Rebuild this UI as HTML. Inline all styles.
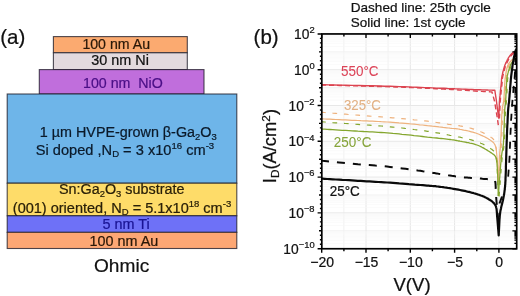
<!DOCTYPE html>
<html lang="en"><head><meta charset="utf-8"><title>Figure</title>
<style>html,body{margin:0;padding:0;background:#fff;}body{width:520px;height:296px;overflow:hidden;}svg{display:block;filter:blur(0.4px);}text{font-family:"Liberation Sans",sans-serif;}</style>
</head><body>
<svg width="520" height="296" viewBox="0 0 520 296">
<rect width="520" height="296" fill="#fff"/>
<g stroke="#1c1a26" stroke-opacity="0.78" stroke-width="1.1">
<rect x="53.4" y="36.6" width="133.9" height="16.2" fill="#FBAA70"/>
<rect x="53.4" y="52.8" width="133.9" height="16.8" fill="#E3DADE"/>
<rect x="39.3" y="69.6" width="164.7" height="24.4" fill="#C06EDC"/>
<rect x="7.2" y="94.0" width="229.6" height="89.2" fill="#6EB5E9"/>
<rect x="7.2" y="183.2" width="229.6" height="32.6" fill="#FEDC69"/>
<rect x="7.2" y="215.8" width="229.6" height="16.6" fill="#6E71F7"/>
<rect x="7.2" y="232.3" width="229.6" height="16.2" fill="#FDA774"/>
</g>
<text x="0.2" y="43.6" font-size="20.5" fill="#111" stroke="#111" stroke-width="0.22" text-anchor="start">(a)</text>
<text x="82.4" y="49" font-size="14" fill="#2a1808" stroke="#2a1808" stroke-width="0.22" text-anchor="start" textLength="67.6" lengthAdjust="spacingAndGlyphs">100 nm Au</text>
<text x="91.2" y="64.7" font-size="14" fill="#111" stroke="#111" stroke-width="0.22" text-anchor="start" textLength="57.7" lengthAdjust="spacingAndGlyphs">30 nm Ni</text>
<text x="83" y="87.7" font-size="14" fill="#4a0f86" stroke="#4a0f86" stroke-width="0.22" text-anchor="start" textLength="79.8" lengthAdjust="spacingAndGlyphs" xml:space="preserve">100 nm  NiO</text>
<text x="39.8" y="137.3" font-size="14" fill="#0b1a2a" stroke="#0b1a2a" stroke-width="0.22" text-anchor="start" xml:space="preserve" textLength="176.9" lengthAdjust="spacingAndGlyphs"><tspan>1 µm HVPE-grown β-Ga</tspan><tspan font-size="9.2" dy="2.5">2</tspan><tspan dy="-2.5">O</tspan><tspan font-size="9.2" dy="2.5">3</tspan></text>
<text x="35.8" y="154.6" font-size="14" fill="#0b1a2a" stroke="#0b1a2a" stroke-width="0.22" text-anchor="start" xml:space="preserve" textLength="178.4" lengthAdjust="spacingAndGlyphs"><tspan>Si doped ,N</tspan><tspan font-size="9.2" dy="2.5">D</tspan><tspan dy="-2.5"> = 3 x10</tspan><tspan font-size="9.2" dy="-5.5">16</tspan><tspan dy="5.5"> cm</tspan><tspan font-size="9.2" dy="-5.5">-3</tspan></text>
<text x="59.0" y="194.3" font-size="14" fill="#2a2008" stroke="#2a2008" stroke-width="0.22" text-anchor="start" xml:space="preserve" textLength="125.4" lengthAdjust="spacingAndGlyphs"><tspan>Sn:Ga</tspan><tspan font-size="9.2" dy="2.5">2</tspan><tspan dy="-2.5">O</tspan><tspan font-size="9.2" dy="2.5">3</tspan><tspan dy="-2.5"> substrate</tspan></text>
<text x="12.8" y="212.5" font-size="14" fill="#2a2008" stroke="#2a2008" stroke-width="0.22" text-anchor="start" xml:space="preserve" textLength="218.4" lengthAdjust="spacingAndGlyphs"><tspan>(001) oriented, N</tspan><tspan font-size="9.2" dy="2.5">D</tspan><tspan dy="-2.5"> = 5.1x10</tspan><tspan font-size="9.2" dy="-5.5">18</tspan><tspan dy="5.5"> cm</tspan><tspan font-size="9.2" dy="-5.5">-3</tspan></text>
<text x="102.4" y="229.3" font-size="14" fill="#1a1494" stroke="#1a1494" stroke-width="0.22" text-anchor="start" textLength="47.2" lengthAdjust="spacingAndGlyphs">5 nm Ti</text>
<text x="89.6" y="245.8" font-size="14" fill="#2a1808" stroke="#2a1808" stroke-width="0.22" text-anchor="start" textLength="68.7" lengthAdjust="spacingAndGlyphs">100 nm Au</text>
<text x="94" y="272" font-size="19" fill="#111" stroke="#111" stroke-width="0.22" text-anchor="start" textLength="55.2" lengthAdjust="spacingAndGlyphs">Ohmic</text>
<text x="253.6" y="44.1" font-size="20.5" fill="#111" stroke="#111" stroke-width="0.22" text-anchor="start">(b)</text>
<text x="350.8" y="11.8" font-size="13.5" fill="#111" stroke="#111" stroke-width="0.22" text-anchor="start" textLength="140" lengthAdjust="spacingAndGlyphs">Dashed line: 25th cycle</text>
<text x="350.8" y="27.2" font-size="13.5" fill="#111" stroke="#111" stroke-width="0.22" text-anchor="start" textLength="114.7" lengthAdjust="spacingAndGlyphs">Solid line: 1st cycle</text>
<rect x="321.8" y="33.95" width="194.9" height="214.8" fill="#fff"/>
<path d="M343.9 33.95V248.75 M388.1 33.95V248.75 M432.4 33.95V248.75 M476.8 33.95V248.75 M321.8 230.8H516.7 M321.8 195.0H516.7 M321.8 159.2H516.7 M321.8 123.4H516.7 M321.8 87.7H516.7 M321.8 51.9H516.7" stroke="#f1f1f1" stroke-width="1" fill="none"/>
<path d="M366.0 33.95V248.75 M410.3 33.95V248.75 M454.6 33.95V248.75 M498.9 33.95V248.75 M321.8 212.9H516.7 M321.8 177.1H516.7 M321.8 141.3H516.7 M321.8 105.5H516.7 M321.8 69.8H516.7" stroke="#e6e6e6" stroke-width="1" fill="none"/>
<path d="M321.8 243.4H516.7 M321.8 240.2H516.7 M321.8 238.0H516.7 M321.8 236.2H516.7 M321.8 234.8H516.7 M321.8 233.6H516.7 M321.8 232.6H516.7 M321.8 231.7H516.7 M321.8 225.5H516.7 M321.8 222.3H516.7 M321.8 220.1H516.7 M321.8 218.3H516.7 M321.8 216.9H516.7 M321.8 215.7H516.7 M321.8 214.7H516.7 M321.8 213.8H516.7 M321.8 207.6H516.7 M321.8 204.4H516.7 M321.8 202.2H516.7 M321.8 200.4H516.7 M321.8 199.0H516.7 M321.8 197.8H516.7 M321.8 196.8H516.7 M321.8 195.9H516.7 M321.8 189.7H516.7 M321.8 186.5H516.7 M321.8 184.3H516.7 M321.8 182.5H516.7 M321.8 181.1H516.7 M321.8 179.9H516.7 M321.8 178.9H516.7 M321.8 178.0H516.7 M321.8 171.8H516.7 M321.8 168.6H516.7 M321.8 166.4H516.7 M321.8 164.6H516.7 M321.8 163.2H516.7 M321.8 162.0H516.7 M321.8 161.0H516.7 M321.8 160.1H516.7 M321.8 153.9H516.7 M321.8 150.7H516.7 M321.8 148.5H516.7 M321.8 146.7H516.7 M321.8 145.3H516.7 M321.8 144.1H516.7 M321.8 143.1H516.7 M321.8 142.2H516.7 M321.8 136.0H516.7 M321.8 132.8H516.7 M321.8 130.6H516.7 M321.8 128.8H516.7 M321.8 127.4H516.7 M321.8 126.2H516.7 M321.8 125.2H516.7 M321.8 124.3H516.7 M321.8 118.1H516.7 M321.8 114.9H516.7 M321.8 112.7H516.7 M321.8 110.9H516.7 M321.8 109.5H516.7 M321.8 108.3H516.7 M321.8 107.3H516.7 M321.8 106.4H516.7 M321.8 100.2H516.7 M321.8 97.0H516.7 M321.8 94.8H516.7 M321.8 93.0H516.7 M321.8 91.6H516.7 M321.8 90.4H516.7 M321.8 89.4H516.7 M321.8 88.5H516.7 M321.8 82.3H516.7 M321.8 79.1H516.7 M321.8 76.9H516.7 M321.8 75.1H516.7 M321.8 73.7H516.7 M321.8 72.5H516.7 M321.8 71.5H516.7 M321.8 70.6H516.7 M321.8 64.4H516.7 M321.8 61.2H516.7 M321.8 59.0H516.7 M321.8 57.2H516.7 M321.8 55.8H516.7 M321.8 54.6H516.7 M321.8 53.6H516.7 M321.8 52.7H516.7 M321.8 46.5H516.7 M321.8 43.3H516.7 M321.8 41.1H516.7 M321.8 39.3H516.7 M321.8 37.9H516.7 M321.8 36.7H516.7 M321.8 35.7H516.7 M321.8 34.8H516.7" stroke="#f6f6f6" stroke-width="0.6" fill="none"/>
<defs><clipPath id="c"><rect x="321.8" y="33.95" width="194.9" height="214.8"/></clipPath></defs>
<g clip-path="url(#c)">
<path d="M321.0 84.7 L324.4 84.8 L328.7 84.9 L333.8 85.0 L339.6 85.1 L345.8 85.2 L352.4 85.4 L359.1 85.5 L365.9 85.7 L372.5 85.8 L378.8 86.0 L384.7 86.2 L390.0 86.3 L394.9 86.4 L399.5 86.6 L404.1 86.8 L408.4 86.9 L412.7 87.1 L416.8 87.2 L420.8 87.4 L424.8 87.6 L428.6 87.7 L432.5 87.9 L436.2 88.1 L440.0 88.2 L443.8 88.3 L447.5 88.5 L451.3 88.6 L455.0 88.8 L458.7 88.9 L462.2 89.1 L465.6 89.2 L468.9 89.4 L472.0 89.5 L474.9 89.6 L477.6 89.7 L480.0 89.8 L482.2 89.9 L484.1 89.9 L485.8 90.0 L487.3 90.0 L488.7 90.1 L489.9 90.1 L491.0 90.1 L491.9 90.1 L492.7 90.2 L493.5 90.2 L494.2 90.2 L494.8 90.2 L496.3 100.0 L498.6 118.0 L498.7 117.7 L498.7 117.4 L498.7 117.1 L498.8 116.7 L498.8 116.2 L498.8 115.8 L498.8 115.2 L498.9 114.7 L498.9 114.1 L498.9 113.4 L499.0 112.7 L499.0 112.0 L499.0 111.2 L499.1 110.4 L499.1 109.5 L499.1 108.6 L499.2 107.7 L499.2 106.7 L499.3 105.7 L499.3 104.6 L499.4 103.5 L499.4 102.4 L499.5 101.2 L499.6 100.0 L499.7 98.7 L499.8 97.3 L500.0 95.9 L500.1 94.3 L500.3 92.8 L500.4 91.2 L500.6 89.6 L500.8 88.1 L500.9 86.7 L501.1 85.3 L501.2 84.1 L501.3 83.0 L501.4 82.1 L501.4 81.3 L501.5 80.6 L501.5 80.1 L501.5 79.6 L501.6 79.1 L501.6 78.7 L501.6 78.3 L501.7 77.8 L501.8 77.3 L501.9 76.7 L502.0 76.0 L502.2 75.2 L502.4 74.4 L502.6 73.5 L502.8 72.5 L503.0 71.5 L503.3 70.6 L503.6 69.6 L503.8 68.6 L504.1 67.6 L504.4 66.7 L504.7 65.8 L505.0 65.0 L505.3 64.2 L505.6 63.4 L505.9 62.7 L506.3 62.0 L506.6 61.3 L507.0 60.6 L507.3 59.9 L507.7 59.3 L508.0 58.7 L508.3 58.1 L508.7 57.5 L509.0 57.0 L509.3 56.5 L509.6 56.1 L509.9 55.6 L510.3 55.2 L510.6 54.9 L510.9 54.5 L511.2 54.2 L511.5 53.9 L511.8 53.6 L512.1 53.3 L512.4 53.1 L512.7 52.8 L513.0 52.6 L513.4 52.3 L513.7 52.1 L514.1 52.0 L514.5 51.8 L514.8 51.6 L515.2 51.5 L515.5 51.4 L515.8 51.3 L516.1 51.2 L516.3 51.1 L516.5 51.0" stroke="#dc4450" stroke-width="1.4" fill="none" stroke-linejoin="round"/>
<path d="M321.0 85.0 L324.4 85.1 L328.7 85.2 L333.8 85.3 L339.6 85.5 L345.8 85.6 L352.4 85.8 L359.1 85.9 L365.9 86.1 L372.5 86.3 L378.8 86.5 L384.7 86.6 L390.0 86.8 L394.9 87.0 L399.5 87.1 L404.1 87.3 L408.4 87.5 L412.7 87.6 L416.8 87.8 L420.8 88.0 L424.8 88.2 L428.6 88.3 L432.5 88.5 L436.2 88.7 L440.0 88.9 L443.8 89.1 L447.6 89.3 L451.4 89.5 L455.1 89.7 L458.8 90.0 L462.4 90.2 L465.8 90.4 L469.1 90.6 L472.2 90.8 L475.1 91.0 L477.7 91.2 L480.0 91.3 L482.0 91.4 L483.8 91.5 L485.2 91.6 L486.5 91.7 L487.6 91.7 L488.5 91.8 L489.3 91.8 L489.9 91.9 L490.5 91.9 L491.0 91.9 L491.5 92.0 L492.0 92.0 L494.5 101.0 L497.3 118.0 L498.6 127.0" stroke="#dc4450" stroke-width="1.4" fill="none" stroke-linejoin="round" stroke-dasharray="5 3"/>
<path d="M499.4 118.6 L499.4 118.3 L499.4 118.0 L499.4 117.7 L499.5 117.3 L499.5 116.8 L499.5 116.3 L499.5 115.8 L499.6 115.3 L499.6 114.7 L499.6 114.0 L499.7 113.3 L499.7 112.6 L499.7 111.8 L499.8 111.0 L499.8 110.1 L499.8 109.2 L499.9 108.3 L499.9 107.3 L500.0 106.3 L500.0 105.2 L500.1 104.1 L500.1 103.0 L500.2 101.8 L500.3 100.6 L500.4 99.3 L500.5 97.9 L500.7 96.5 L500.8 94.9 L501.0 93.4 L501.1 91.8 L501.3 90.2 L501.5 88.7 L501.6 87.3 L501.8 85.9 L501.9 84.7 L502.0 83.6 L502.1 82.7 L502.1 81.9 L502.2 81.2 L502.2 80.7 L502.2 80.2 L502.3 79.7 L502.3 79.3 L502.3 78.9 L502.4 78.4 L502.5 77.9 L502.6 77.3 L502.7 76.6 L502.9 75.8 L503.1 75.0 L503.3 74.1 L503.5 73.1 L503.7 72.1 L504.0 71.2 L504.3 70.2 L504.5 69.2 L504.8 68.2 L505.1 67.3 L505.4 66.4 L505.7 65.6 L506.0 64.8 L506.3 64.0 L506.6 63.3 L507.0 62.6 L507.3 61.9 L507.7 61.2 L508.0 60.5 L508.4 59.9 L508.7 59.3 L509.0 58.7 L509.4 58.1 L509.7 57.6 L510.0 57.1 L510.3 56.7 L510.6 56.2 L511.0 55.8 L511.3 55.5 L511.6 55.1 L511.9 54.8 L512.2 54.5 L512.5 54.2 L512.8 53.9 L513.1 53.7 L513.4 53.4 L513.7 53.2 L514.1 52.9 L514.4 52.7 L514.8 52.6 L515.2 52.4 L515.5 52.2 L515.9 52.1 L516.2 52.0 L516.5 51.9 L516.8 51.8 L517.0 51.7 L517.2 51.6" stroke="#dc4450" stroke-width="1.4" fill="none" stroke-linejoin="round" stroke-dasharray="5 3"/>
<path d="M321.0 112.2 L322.6 112.3 L324.7 112.5 L327.1 112.7 L329.8 112.9 L332.7 113.2 L335.8 113.4 L339.0 113.7 L342.3 114.0 L345.6 114.2 L348.9 114.5 L352.0 114.8 L355.0 115.0 L357.9 115.2 L360.8 115.4 L363.7 115.6 L366.6 115.9 L369.5 116.1 L372.4 116.3 L375.4 116.5 L378.3 116.7 L381.2 116.9 L384.2 117.1 L387.1 117.4 L390.0 117.6 L392.9 117.8 L395.9 118.1 L399.0 118.4 L402.0 118.6 L405.1 118.9 L408.1 119.2 L411.1 119.5 L414.1 119.8 L417.0 120.0 L419.7 120.3 L422.4 120.6 L425.0 120.9 L427.5 121.2 L429.9 121.5 L432.3 121.8 L434.6 122.2 L436.9 122.5 L439.1 122.8 L441.2 123.1 L443.1 123.5 L445.0 123.7 L446.8 124.0 L448.5 124.3 L450.0 124.5 L451.3 124.7 L452.5 124.8 L453.4 124.9 L454.2 125.0 L454.9 125.1 L455.5 125.2 L456.1 125.2 L456.7 125.3 L457.4 125.4 L458.1 125.5 L459.0 125.7 L460.0 125.9 L461.2 126.1 L462.5 126.4 L463.8 126.7 L465.3 127.0 L466.8 127.3 L468.3 127.7 L469.8 128.0 L471.3 128.4 L472.8 128.8 L474.3 129.2 L475.7 129.7 L477.0 130.1 L478.3 130.6 L479.6 131.1 L480.8 131.7 L482.1 132.3 L483.3 132.9 L484.6 133.5 L485.7 134.1 L486.8 134.7 L487.9 135.3 L488.8 135.9 L489.7 136.4 L490.5 136.9 L491.2 137.4 L491.8 137.8 L492.2 138.1 L492.6 138.5 L493.0 138.8 L493.3 139.2 L493.5 139.5 L493.8 139.8 L494.0 140.2 L494.2 140.6 L494.4 141.1 L494.6 141.6 L494.8 142.1 L495.0 142.7 L495.2 143.3 L495.4 143.9 L495.5 144.5 L495.7 145.2 L495.8 145.8 L495.9 146.6 L496.0 147.3 L496.2 148.2 L496.3 149.1 L496.4 150.0 L496.5 151.0 L496.6 152.1 L496.8 153.3 L496.9 154.5 L497.0 155.7 L497.1 157.0 L497.2 158.3 L497.3 159.7 L497.4 161.0 L497.4 162.4 L497.5 163.7 L497.6 165.0 L497.7 166.3 L497.7 167.8 L497.8 169.3 L497.9 170.9 L497.9 172.4 L498.0 173.9 L498.0 175.4 L498.1 176.8 L498.1 178.1 L498.1 179.2 L498.2 180.2 L498.2 181.0" stroke="#eeb27e" stroke-width="1.2" fill="none" stroke-linejoin="round" stroke-dasharray="4.7 6.8"/>
<path d="M321.0 118.8 L322.6 118.9 L324.7 119.0 L327.1 119.1 L329.8 119.2 L332.7 119.3 L335.8 119.5 L339.0 119.6 L342.3 119.8 L345.6 119.9 L348.9 120.1 L352.0 120.3 L355.0 120.4 L357.9 120.5 L360.8 120.7 L363.7 120.8 L366.6 120.9 L369.5 121.1 L372.4 121.2 L375.4 121.3 L378.3 121.5 L381.2 121.7 L384.2 121.8 L387.1 122.0 L390.0 122.2 L392.9 122.4 L395.9 122.6 L399.0 122.9 L402.0 123.1 L405.1 123.4 L408.1 123.7 L411.1 124.0 L414.1 124.2 L417.0 124.5 L419.7 124.8 L422.4 125.0 L425.0 125.3 L427.5 125.6 L429.9 125.8 L432.3 126.1 L434.6 126.3 L436.9 126.6 L439.1 126.9 L441.2 127.1 L443.1 127.4 L445.0 127.6 L446.8 127.8 L448.5 128.0 L450.0 128.2 L451.3 128.3 L452.5 128.5 L453.4 128.5 L454.2 128.6 L454.9 128.6 L455.5 128.7 L456.1 128.7 L456.7 128.8 L457.4 128.8 L458.1 129.0 L459.0 129.1 L460.0 129.3 L461.2 129.5 L462.5 129.8 L463.8 130.1 L465.3 130.4 L466.8 130.7 L468.3 131.0 L469.8 131.4 L471.3 131.8 L472.8 132.2 L474.3 132.6 L475.7 133.0 L477.0 133.5 L478.3 134.0 L479.6 134.5 L480.8 135.1 L482.1 135.6 L483.3 136.2 L484.5 136.8 L485.7 137.4 L486.8 138.0 L487.8 138.6 L488.8 139.2 L489.7 139.8 L490.5 140.3 L491.2 140.8 L491.8 141.2 L492.4 141.7 L492.9 142.1 L493.3 142.5 L493.6 142.8 L494.0 143.2 L494.3 143.7 L494.5 144.1 L494.8 144.6 L495.0 145.1 L495.3 145.7 L495.5 146.3 L495.7 147.0 L495.9 147.6 L496.1 148.3 L496.2 149.0 L496.3 149.8 L496.4 150.5 L496.5 151.3 L496.5 152.2 L496.6 153.1 L496.7 154.0 L496.8 155.0 L496.9 156.1 L497.0 157.2 L497.1 158.4 L497.2 159.7 L497.3 161.0 L497.4 162.3 L497.4 163.7 L497.5 165.0 L497.6 166.3 L497.7 167.6 L497.7 168.8 L497.8 170.0 L497.9 171.1 L497.9 172.3 L498.0 173.5 L498.0 174.7 L498.1 175.8 L498.1 176.9 L498.2 178.0 L498.2 179.0 L498.2 179.9 L498.3 180.7 L498.3 181.4 L498.3 182.0" stroke="#eeb27e" stroke-width="1.2" fill="none" stroke-linejoin="round"/>
<path d="M498.3 182.0 L498.4 180.8 L498.4 179.3 L498.5 177.5 L498.6 175.6 L498.7 173.4 L498.8 171.1 L498.9 168.8 L499.0 166.4 L499.2 164.1 L499.3 161.9 L499.4 159.9 L499.5 158.0 L499.6 156.3 L499.7 154.8 L499.8 153.3 L499.9 151.9 L500.0 150.6 L500.2 149.2 L500.3 147.9 L500.4 146.5 L500.5 145.1 L500.6 143.5 L500.7 141.8 L500.8 140.0 L500.9 138.0 L501.0 135.7 L501.1 133.3 L501.2 130.8 L501.3 128.2 L501.4 125.6 L501.5 123.0 L501.6 120.5 L501.7 118.1 L501.8 115.9 L501.9 113.8 L502.0 112.0 L502.1 110.5 L502.3 109.1 L502.4 108.0 L502.6 107.0 L502.7 106.1 L502.9 105.3 L503.1 104.5 L503.2 103.8 L503.4 103.0 L503.5 102.1 L503.7 101.1 L503.8 100.0 L503.9 98.7 L504.0 97.3 L504.1 95.9 L504.2 94.3 L504.3 92.8 L504.4 91.2 L504.4 89.6 L504.5 88.1 L504.6 86.7 L504.7 85.3 L504.7 84.1 L504.8 83.0 L504.9 82.1 L504.9 81.3 L505.0 80.6 L505.0 80.1 L505.0 79.6 L505.1 79.1 L505.1 78.7 L505.1 78.3 L505.2 77.8 L505.3 77.3 L505.4 76.7 L505.5 76.0 L505.6 75.2 L505.8 74.4 L505.9 73.4 L506.1 72.5 L506.2 71.5 L506.4 70.5 L506.6 69.5 L506.8 68.5 L507.1 67.6 L507.4 66.6 L507.7 65.8 L508.0 65.0 L508.4 64.3 L508.8 63.5 L509.3 62.8 L509.9 62.1 L510.4 61.5 L511.0 60.9 L511.6 60.3 L512.1 59.7 L512.7 59.2 L513.2 58.8 L513.6 58.4 L514.0 58.0 L514.3 57.7 L514.6 57.5 L514.9 57.3 L515.2 57.2 L515.4 57.1 L515.6 57.1 L515.8 57.0 L516.0 57.0 L516.1 57.0 L516.3 57.0 L516.4 57.0 L516.5 57.0" stroke="#eeb27e" stroke-width="1.3" fill="none" stroke-linejoin="round"/>
<path d="M499.1 182.5 L499.2 181.3 L499.2 179.8 L499.3 178.0 L499.4 176.1 L499.5 173.9 L499.6 171.6 L499.7 169.3 L499.8 166.9 L500.0 164.6 L500.1 162.4 L500.2 160.4 L500.3 158.5 L500.4 156.8 L500.5 155.3 L500.6 153.8 L500.7 152.4 L500.8 151.1 L501.0 149.8 L501.1 148.4 L501.2 147.0 L501.3 145.6 L501.4 144.0 L501.5 142.3 L501.6 140.5 L501.7 138.5 L501.8 136.2 L501.9 133.8 L502.0 131.3 L502.1 128.7 L502.2 126.1 L502.3 123.5 L502.4 121.0 L502.5 118.6 L502.6 116.4 L502.7 114.3 L502.8 112.5 L502.9 111.0 L503.1 109.6 L503.2 108.5 L503.4 107.5 L503.5 106.6 L503.7 105.8 L503.9 105.0 L504.0 104.3 L504.2 103.5 L504.3 102.6 L504.5 101.6 L504.6 100.5 L504.7 99.2 L504.8 97.8 L504.9 96.4 L505.0 94.8 L505.1 93.3 L505.2 91.7 L505.2 90.1 L505.3 88.6 L505.4 87.2 L505.5 85.8 L505.5 84.6 L505.6 83.5 L505.7 82.6 L505.7 81.8 L505.8 81.1 L505.8 80.6 L505.8 80.1 L505.9 79.6 L505.9 79.2 L505.9 78.8 L506.0 78.3 L506.1 77.8 L506.2 77.2 L506.3 76.5 L506.4 75.7 L506.6 74.9 L506.7 73.9 L506.9 73.0 L507.0 72.0 L507.2 71.0 L507.4 70.0 L507.6 69.0 L507.9 68.1 L508.2 67.1 L508.5 66.3 L508.8 65.5 L509.2 64.8 L509.6 64.0 L510.1 63.3 L510.7 62.6 L511.2 62.0 L511.8 61.4 L512.4 60.8 L512.9 60.2 L513.5 59.7 L514.0 59.3 L514.4 58.9 L514.8 58.5 L515.1 58.2 L515.4 58.0 L515.7 57.8 L516.0 57.7 L516.2 57.6 L516.4 57.6 L516.6 57.5 L516.8 57.5 L516.9 57.5 L517.1 57.5 L517.2 57.5 L517.3 57.5" stroke="#eeb27e" stroke-width="1.2" fill="none" stroke-linejoin="round" stroke-dasharray="4.7 6.8"/>
<path d="M321.0 121.7 L322.6 121.8 L324.7 122.0 L327.1 122.1 L329.8 122.3 L332.7 122.6 L335.8 122.8 L339.0 123.0 L342.3 123.3 L345.6 123.5 L348.9 123.7 L352.0 124.0 L355.0 124.2 L357.9 124.4 L360.8 124.6 L363.7 124.8 L366.6 125.0 L369.5 125.2 L372.4 125.4 L375.4 125.6 L378.3 125.8 L381.2 126.0 L384.2 126.3 L387.1 126.5 L390.0 126.8 L392.9 127.1 L395.9 127.4 L399.0 127.7 L402.0 128.0 L405.1 128.4 L408.1 128.7 L411.1 129.1 L414.1 129.5 L417.0 129.8 L419.7 130.2 L422.4 130.5 L425.0 130.9 L427.5 131.3 L429.9 131.6 L432.3 132.0 L434.6 132.4 L436.9 132.8 L439.1 133.2 L441.2 133.6 L443.1 134.0 L445.0 134.4 L446.8 134.7 L448.5 135.0 L450.0 135.3 L451.3 135.5 L452.5 135.7 L453.4 135.9 L454.2 136.0 L454.9 136.1 L455.5 136.2 L456.1 136.4 L456.7 136.5 L457.4 136.6 L458.1 136.8 L459.0 137.0 L460.0 137.2 L461.2 137.5 L462.5 137.8 L463.8 138.1 L465.3 138.4 L466.8 138.7 L468.3 139.1 L469.8 139.5 L471.3 139.9 L472.8 140.3 L474.3 140.7 L475.7 141.1 L477.0 141.6 L478.3 142.1 L479.6 142.6 L480.8 143.2 L482.1 143.7 L483.3 144.3 L484.5 144.9 L485.7 145.5 L486.8 146.1 L487.8 146.7 L488.8 147.3 L489.7 147.9 L490.5 148.4 L491.2 148.9 L491.8 149.3 L492.3 149.8 L492.8 150.2 L493.1 150.5 L493.5 150.9 L493.8 151.3 L494.0 151.8 L494.3 152.2 L494.5 152.8 L494.7 153.3 L495.0 154.0 L495.3 154.7 L495.5 155.4 L495.7 156.0 L495.9 156.7 L496.1 157.5 L496.2 158.3 L496.4 159.2 L496.5 160.1 L496.6 161.1 L496.8 162.3 L496.9 163.6 L497.0 165.0 L497.1 166.7 L497.2 168.6 L497.3 170.9 L497.4 173.2 L497.5 175.7 L497.6 178.2 L497.7 180.6 L497.8 183.0 L497.8 185.2 L497.9 187.1 L498.0 188.7 L498.0 190.0" stroke="#84a62e" stroke-width="1.2" fill="none" stroke-linejoin="round" stroke-dasharray="4.7 6.8"/>
<path d="M321.0 129.0 L322.6 129.1 L324.7 129.2 L327.1 129.4 L329.8 129.5 L332.7 129.7 L335.8 129.9 L339.0 130.1 L342.3 130.3 L345.6 130.4 L348.9 130.6 L352.0 130.8 L355.0 131.0 L357.9 131.2 L360.8 131.3 L363.7 131.5 L366.6 131.6 L369.5 131.8 L372.4 131.9 L375.4 132.1 L378.3 132.3 L381.2 132.5 L384.2 132.7 L387.1 132.9 L390.0 133.1 L392.9 133.4 L395.9 133.6 L399.0 133.9 L402.0 134.3 L405.1 134.6 L408.1 134.9 L411.1 135.2 L414.1 135.6 L417.0 135.9 L419.7 136.2 L422.4 136.5 L425.0 136.8 L427.5 137.1 L429.9 137.3 L432.3 137.6 L434.6 137.8 L436.9 138.0 L439.1 138.3 L441.2 138.5 L443.1 138.7 L445.0 138.9 L446.8 139.1 L448.5 139.3 L450.0 139.5 L451.3 139.7 L452.5 139.8 L453.4 139.9 L454.2 140.1 L454.9 140.2 L455.5 140.3 L456.1 140.4 L456.7 140.5 L457.4 140.7 L458.1 140.8 L459.0 141.0 L460.0 141.2 L461.2 141.4 L462.5 141.7 L463.8 141.9 L465.3 142.2 L466.8 142.5 L468.3 142.7 L469.8 143.1 L471.3 143.4 L472.8 143.7 L474.3 144.1 L475.7 144.6 L477.0 145.0 L478.3 145.5 L479.5 146.0 L480.8 146.6 L482.1 147.3 L483.3 147.9 L484.5 148.6 L485.6 149.3 L486.7 149.9 L487.8 150.6 L488.8 151.2 L489.7 151.8 L490.5 152.4 L491.3 152.9 L491.9 153.3 L492.5 153.7 L493.1 154.1 L493.6 154.4 L494.0 154.8 L494.4 155.2 L494.8 155.6 L495.1 156.0 L495.4 156.5 L495.7 157.1 L496.0 157.8 L496.3 158.6 L496.5 159.4 L496.7 160.3 L496.8 161.3 L496.9 162.3 L497.0 163.3 L497.1 164.4 L497.1 165.5 L497.2 166.6 L497.3 167.7 L497.3 168.9 L497.4 170.0 L497.5 171.2 L497.5 172.4 L497.6 173.6 L497.7 174.9 L497.7 176.3 L497.8 177.6 L497.8 178.9 L497.9 180.2 L497.9 181.5 L497.9 182.7 L498.0 183.9 L498.0 185.0 L498.0 186.1 L498.1 187.2 L498.1 188.3 L498.1 189.4 L498.2 190.4 L498.2 191.4 L498.2 192.4 L498.2 193.3 L498.3 194.1 L498.3 194.8 L498.3 195.5 L498.3 196.0" stroke="#84a62e" stroke-width="1.3" fill="none" stroke-linejoin="round"/>
<path d="M498.3 196.0 L498.4 195.2 L498.4 194.3 L498.5 193.3 L498.6 192.1 L498.7 190.8 L498.8 189.4 L498.9 187.9 L499.0 186.4 L499.1 184.8 L499.3 183.2 L499.4 181.6 L499.5 180.0 L499.6 178.4 L499.8 176.6 L499.9 174.8 L500.0 172.9 L500.2 171.0 L500.3 169.0 L500.5 167.0 L500.6 165.1 L500.8 163.2 L501.0 161.4 L501.1 159.6 L501.3 158.0 L501.5 156.5 L501.7 155.1 L501.8 153.9 L502.0 152.7 L502.2 151.6 L502.4 150.5 L502.6 149.4 L502.8 148.1 L503.0 146.8 L503.2 145.4 L503.4 143.8 L503.5 142.0 L503.6 139.9 L503.7 137.6 L503.9 135.1 L503.9 132.4 L504.0 129.6 L504.1 126.8 L504.2 123.9 L504.3 121.2 L504.4 118.6 L504.4 116.1 L504.5 113.9 L504.6 112.0 L504.7 110.4 L504.8 109.0 L504.9 107.9 L505.0 106.9 L505.1 106.0 L505.2 105.2 L505.3 104.4 L505.3 103.7 L505.4 102.9 L505.5 102.1 L505.6 101.1 L505.7 100.0 L505.8 98.7 L505.9 97.3 L505.9 95.9 L506.0 94.3 L506.1 92.8 L506.2 91.2 L506.2 89.6 L506.3 88.1 L506.4 86.7 L506.5 85.3 L506.5 84.1 L506.6 83.0 L506.7 82.1 L506.7 81.3 L506.7 80.6 L506.8 80.1 L506.8 79.6 L506.8 79.1 L506.8 78.7 L506.9 78.3 L507.0 77.8 L507.0 77.3 L507.2 76.7 L507.3 76.0 L507.5 75.2 L507.7 74.3 L507.9 73.4 L508.2 72.4 L508.4 71.4 L508.7 70.4 L509.0 69.4 L509.3 68.4 L509.6 67.4 L509.9 66.5 L510.2 65.7 L510.5 65.0 L510.8 64.4 L511.1 63.8 L511.4 63.2 L511.7 62.7 L512.0 62.3 L512.3 61.9 L512.6 61.5 L512.9 61.1 L513.2 60.8 L513.5 60.5 L513.7 60.3 L514.0 60.0 L514.3 59.8 L514.5 59.6 L514.8 59.4 L515.0 59.3 L515.2 59.2 L515.5 59.2 L515.7 59.1 L515.9 59.1 L516.1 59.1 L516.2 59.1 L516.4 59.0 L516.5 59.0" stroke="#84a62e" stroke-width="1.3" fill="none" stroke-linejoin="round"/>
<path d="M499.1 196.5 L499.2 195.7 L499.2 194.8 L499.3 193.8 L499.4 192.6 L499.5 191.3 L499.6 189.9 L499.7 188.4 L499.8 186.9 L499.9 185.3 L500.1 183.7 L500.2 182.1 L500.3 180.5 L500.4 178.9 L500.6 177.1 L500.7 175.3 L500.8 173.4 L501.0 171.5 L501.1 169.5 L501.3 167.5 L501.4 165.6 L501.6 163.7 L501.8 161.9 L501.9 160.1 L502.1 158.5 L502.3 157.0 L502.5 155.6 L502.6 154.4 L502.8 153.2 L503.0 152.1 L503.2 151.0 L503.4 149.9 L503.6 148.6 L503.8 147.3 L504.0 145.9 L504.2 144.3 L504.3 142.5 L504.4 140.4 L504.5 138.1 L504.7 135.6 L504.7 132.9 L504.8 130.1 L504.9 127.2 L505.0 124.4 L505.1 121.7 L505.2 119.1 L505.2 116.6 L505.3 114.4 L505.4 112.5 L505.5 110.9 L505.6 109.5 L505.7 108.4 L505.8 107.4 L505.9 106.5 L506.0 105.7 L506.1 104.9 L506.1 104.2 L506.2 103.4 L506.3 102.6 L506.4 101.6 L506.5 100.5 L506.6 99.2 L506.7 97.8 L506.7 96.4 L506.8 94.8 L506.9 93.3 L507.0 91.7 L507.0 90.1 L507.1 88.6 L507.2 87.2 L507.3 85.8 L507.3 84.6 L507.4 83.5 L507.5 82.6 L507.5 81.8 L507.5 81.1 L507.6 80.6 L507.6 80.1 L507.6 79.6 L507.6 79.2 L507.7 78.8 L507.8 78.3 L507.8 77.8 L508.0 77.2 L508.1 76.5 L508.3 75.7 L508.5 74.8 L508.7 73.9 L509.0 72.9 L509.2 71.9 L509.5 70.9 L509.8 69.9 L510.1 68.9 L510.4 67.9 L510.7 67.0 L511.0 66.2 L511.3 65.5 L511.6 64.9 L511.9 64.3 L512.2 63.7 L512.5 63.2 L512.8 62.8 L513.1 62.4 L513.4 62.0 L513.7 61.6 L514.0 61.3 L514.3 61.0 L514.5 60.8 L514.8 60.5 L515.1 60.3 L515.3 60.1 L515.6 59.9 L515.8 59.8 L516.0 59.7 L516.3 59.7 L516.5 59.6 L516.7 59.6 L516.9 59.6 L517.0 59.6 L517.2 59.5 L517.3 59.5" stroke="#84a62e" stroke-width="1.2" fill="none" stroke-linejoin="round" stroke-dasharray="4.7 6.8"/>
<path d="M321.0 160.6 L322.6 160.8 L324.7 161.0 L327.1 161.2 L329.8 161.5 L332.7 161.8 L335.8 162.1 L339.0 162.4 L342.3 162.7 L345.6 163.0 L348.9 163.3 L352.0 163.6 L355.0 163.9 L357.9 164.2 L360.8 164.4 L363.7 164.6 L366.6 164.9 L369.5 165.1 L372.4 165.3 L375.4 165.6 L378.3 165.8 L381.2 166.0 L384.2 166.3 L387.1 166.6 L390.0 166.9 L393.0 167.2 L396.1 167.6 L399.2 168.0 L402.4 168.4 L405.6 168.8 L408.8 169.2 L411.8 169.7 L414.8 170.1 L417.7 170.5 L420.3 170.8 L422.8 171.2 L425.0 171.5 L426.9 171.8 L428.6 172.0 L430.0 172.3 L431.3 172.5 L432.4 172.7 L433.4 172.9 L434.4 173.0 L435.4 173.2 L436.4 173.4 L437.4 173.6 L438.6 173.8 L440.0 174.0 L441.5 174.2 L443.1 174.5 L444.7 174.7 L446.4 175.0 L448.2 175.3 L449.9 175.5 L451.7 175.8 L453.4 176.0 L455.1 176.3 L456.8 176.5 L458.4 176.7 L460.0 176.9 L461.5 177.1 L463.0 177.2 L464.4 177.4 L465.8 177.5 L467.1 177.6 L468.5 177.7 L469.8 177.8 L471.2 177.9 L472.5 178.0 L473.8 178.1 L475.1 178.2 L476.5 178.3 L477.9 178.4 L479.4 178.5 L480.9 178.6 L482.4 178.8 L484.0 178.9 L485.5 179.0 L486.9 179.1 L488.3 179.2 L489.6 179.3 L490.8 179.4 L491.8 179.6 L492.7 179.7 L493.4 179.8 L493.9 179.9 L494.3 180.0 L494.6 180.0 L494.8 180.1 L494.9 180.2 L495.0 180.3 L495.0 180.4 L495.0 180.6 L495.1 180.8 L495.1 181.1 L495.2 181.5 L495.3 182.0 L495.4 182.5 L495.5 183.1 L495.5 183.8 L495.6 184.5 L495.6 185.2 L495.6 186.0 L495.7 186.8 L495.7 187.6 L495.7 188.4 L495.8 189.2 L495.8 190.0 L495.8 190.8 L495.9 191.6 L495.9 192.4 L496.0 193.2 L496.0 194.0 L496.1 194.9 L496.1 195.7 L496.2 196.6 L496.2 197.4 L496.3 198.3 L496.3 199.1 L496.4 200.0 L496.5 200.9 L496.5 201.7 L496.6 202.6 L496.7 203.4 L496.7 204.3 L496.8 205.2 L496.9 206.0 L497.0 206.9 L497.1 207.8 L497.1 208.7 L497.2 209.6 L497.3 210.5 L497.4 211.5 L497.5 212.5 L497.6 213.6 L497.7 214.7 L497.8 215.8 L497.9 216.9 L498.0 218.0 L498.1 219.0 L498.2 219.9 L498.3 220.7 L498.3 221.4 L498.4 222.0" stroke="#0a0a0a" stroke-width="2" fill="none" stroke-linejoin="round" stroke-dasharray="8 8"/>
<path d="M499.5 203.5 L502.0 196.5" stroke="#0a0a0a" stroke-width="2" fill="none" stroke-linejoin="round"/>
<path d="M321.0 178.6 L322.6 178.7 L324.7 178.8 L327.1 179.0 L329.8 179.1 L332.7 179.3 L335.8 179.5 L339.0 179.7 L342.3 179.9 L345.6 180.0 L348.9 180.2 L352.0 180.4 L355.0 180.6 L357.9 180.8 L360.8 180.9 L363.7 181.1 L366.6 181.3 L369.5 181.4 L372.4 181.6 L375.4 181.8 L378.3 182.0 L381.2 182.1 L384.2 182.3 L387.1 182.5 L390.0 182.7 L393.0 182.9 L396.1 183.1 L399.2 183.4 L402.4 183.6 L405.6 183.8 L408.8 184.1 L411.8 184.3 L414.8 184.6 L417.7 184.8 L420.3 185.0 L422.8 185.2 L425.0 185.4 L426.9 185.6 L428.6 185.7 L430.0 185.8 L431.3 185.9 L432.4 186.0 L433.4 186.1 L434.4 186.2 L435.4 186.2 L436.4 186.4 L437.4 186.5 L438.6 186.6 L440.0 186.8 L441.5 187.0 L443.1 187.2 L444.7 187.5 L446.4 187.7 L448.2 188.0 L449.9 188.2 L451.7 188.5 L453.4 188.8 L455.1 189.1 L456.8 189.4 L458.4 189.7 L460.0 190.0 L461.5 190.3 L463.0 190.6 L464.5 190.9 L465.9 191.2 L467.4 191.6 L468.8 191.9 L470.2 192.2 L471.5 192.6 L472.8 192.9 L474.1 193.3 L475.3 193.6 L476.5 194.0 L477.6 194.4 L478.8 194.7 L479.8 195.1 L480.9 195.5 L481.8 195.8 L482.8 196.2 L483.7 196.6 L484.6 197.0 L485.5 197.4 L486.4 197.9 L487.2 198.3 L488.0 198.8 L488.8 199.3 L489.5 199.8 L490.3 200.2 L491.0 200.7 L491.7 201.2 L492.4 201.7 L493.0 202.3 L493.6 202.8 L494.1 203.4 L494.6 204.1 L495.1 204.8 L495.5 205.5 L495.9 206.3 L496.1 207.3 L496.4 208.3 L496.6 209.4 L496.7 210.5 L496.8 211.7 L496.9 212.8 L497.0 213.8 L497.0 214.8 L497.1 215.7 L497.1 216.4 L497.2 217.0 L498.7 235.5 L498.8 234.4 L498.8 233.1 L498.9 231.5 L499.0 229.7 L499.1 227.7 L499.2 225.7 L499.3 223.6 L499.4 221.4 L499.5 219.4 L499.7 217.4 L499.8 215.6 L500.0 214.0 L500.2 212.5 L500.4 211.1 L500.7 209.8 L501.0 208.5 L501.2 207.2 L501.5 206.0 L501.8 204.9 L502.1 203.7 L502.4 202.6 L502.6 201.6 L502.9 200.5 L503.1 199.5 L503.3 198.5 L503.5 197.6 L503.6 196.7 L503.8 195.9 L503.9 195.1 L504.1 194.4 L504.2 193.6 L504.3 192.9 L504.4 192.1 L504.5 191.3 L504.6 190.4 L504.8 189.5 L504.8 188.6 L504.9 187.8 L505.0 187.1 L505.1 186.4 L505.1 185.6 L505.2 184.8 L505.3 183.9 L505.3 182.9 L505.4 181.8 L505.5 180.4 L505.5 178.8 L505.6 177.0 L505.7 174.9 L505.8 172.4 L505.9 169.7 L505.9 166.8 L506.0 163.8 L506.1 160.6 L506.2 157.4 L506.3 154.1 L506.4 150.9 L506.5 147.8 L506.6 144.8 L506.7 142.0 L506.8 139.3 L506.9 136.5 L507.0 133.7 L507.1 131.0 L507.2 128.2 L507.3 125.6 L507.5 123.0 L507.6 120.5 L507.7 118.1 L507.8 115.9 L507.9 113.9 L508.0 112.0 L508.1 110.4 L508.2 109.1 L508.3 108.0 L508.4 107.1 L508.5 106.3 L508.6 105.6 L508.6 104.9 L508.7 104.2 L508.8 103.4 L509.0 102.5 L509.1 101.4 L509.2 100.0 L509.3 98.4 L509.5 96.6 L509.6 94.7 L509.8 92.6 L510.0 90.4 L510.1 88.2 L510.3 86.0 L510.5 83.9 L510.7 81.7 L510.8 79.7 L511.0 77.8 L511.2 76.0 L511.4 74.4 L511.6 72.8 L511.8 71.3 L512.0 69.8 L512.2 68.4 L512.4 67.1 L512.5 65.8 L512.7 64.5 L512.9 63.3 L513.1 62.2 L513.3 61.1 L513.5 60.0 L513.7 59.0 L513.9 58.0 L514.0 57.1 L514.2 56.2 L514.4 55.4 L514.6 54.6 L514.8 53.9 L514.9 53.2 L515.1 52.6 L515.2 52.0 L515.4 51.5 L515.5 51.0 L515.6 50.6 L515.7 50.2 L515.8 50.0 L515.9 49.7 L516.0 49.6 L516.1 49.4 L516.2 49.3 L516.3 49.3 L516.3 49.2 L516.4 49.1 L516.5 49.1 L516.5 49.0" stroke="#0a0a0a" stroke-width="2.2" fill="none" stroke-linejoin="round"/>
<path d="M516.0 58.0 L515.9 59.0 L515.8 60.3 L515.7 61.8 L515.6 63.5 L515.5 65.3 L515.4 67.2 L515.2 69.2 L515.1 71.2 L515.0 73.1 L514.8 74.9 L514.7 76.5 L514.6 78.0 L514.5 79.2 L514.4 80.3 L514.3 81.3 L514.2 82.2 L514.1 83.1 L514.0 83.9 L513.9 84.7 L513.8 85.6 L513.7 86.5 L513.6 87.5 L513.5 88.7 L513.4 90.0 L513.3 91.5 L513.1 93.1 L513.0 94.8 L512.8 96.6 L512.7 98.4 L512.5 100.3 L512.3 102.3 L512.2 104.2 L512.0 106.2 L511.9 108.2 L511.7 110.1 L511.6 112.0 L511.5 113.9 L511.4 115.8 L511.3 117.6 L511.1 119.5 L511.0 121.4 L511.0 123.3 L510.9 125.2 L510.8 127.1 L510.7 129.1 L510.6 131.0 L510.5 133.0 L510.4 135.0 L510.3 137.0 L510.2 139.1 L510.1 141.3 L510.1 143.4 L510.0 145.6 L509.9 147.8 L509.8 150.0 L509.8 152.1 L509.7 154.2 L509.6 156.2 L509.5 158.2 L509.4 160.0 L509.3 161.8 L509.2 163.6 L509.0 165.4 L508.9 167.2 L508.8 168.9 L508.6 170.6 L508.5 172.1 L508.4 173.6 L508.3 174.9 L508.2 176.1 L508.1 177.2 L508.0 178.0" stroke="#0a0a0a" stroke-width="1.8" fill="none" stroke-linejoin="round" stroke-dasharray="7 7"/>
</g>
<text x="341" y="75.5" font-size="14" fill="#dc4458" stroke="#dc4458" stroke-width="0.05" text-anchor="start" textLength="37.6" lengthAdjust="spacingAndGlyphs">550°C</text>
<text x="343.9" y="109.6" font-size="14" fill="#e2b184" stroke="#e2b184" stroke-width="0.05" text-anchor="start" textLength="37" lengthAdjust="spacingAndGlyphs">325°C</text>
<text x="333.8" y="146.7" font-size="14" fill="#86a43a" stroke="#86a43a" stroke-width="0.05" text-anchor="start" textLength="37.6" lengthAdjust="spacingAndGlyphs">250°C</text>
<text x="329.8" y="196.4" font-size="14" fill="#111" stroke="#111" stroke-width="0.22" text-anchor="start" textLength="30" lengthAdjust="spacingAndGlyphs">25°C</text>
<rect x="321.8" y="33.95" width="194.9" height="214.8" fill="none" stroke="#000" stroke-width="1.7"/>
<path d="M321.7 248.75v4 M321.7 33.95v4 M366.0 248.75v4 M366.0 33.95v4 M410.3 248.75v4 M410.3 33.95v4 M454.6 248.75v4 M454.6 33.95v4 M498.9 248.75v4 M498.9 33.95v4 M343.9 248.75v2.6 M343.9 33.95v2.6 M388.1 248.75v2.6 M388.1 33.95v2.6 M432.4 248.75v2.6 M432.4 33.95v2.6 M476.8 248.75v2.6 M476.8 33.95v2.6 M321.8 248.8h-4.2 M321.8 212.9h-4.2 M321.8 177.1h-4.2 M321.8 141.3h-4.2 M321.8 105.5h-4.2 M321.8 69.8h-4.2 M321.8 34.0h-4.2 M321.8 230.8h-2.8 M321.8 195.0h-2.8 M321.8 159.2h-2.8 M321.8 123.4h-2.8 M321.8 87.7h-2.8 M321.8 51.9h-2.8 M321.8 244.3h-1.9 M321.8 239.8h-1.9 M321.8 235.3h-1.9 M321.8 226.4h-1.9 M321.8 221.9h-1.9 M321.8 217.4h-1.9 M321.8 208.5h-1.9 M321.8 204.0h-1.9 M321.8 199.5h-1.9 M321.8 190.6h-1.9 M321.8 186.1h-1.9 M321.8 181.6h-1.9 M321.8 172.7h-1.9 M321.8 168.2h-1.9 M321.8 163.7h-1.9 M321.8 154.8h-1.9 M321.8 150.3h-1.9 M321.8 145.8h-1.9 M321.8 136.9h-1.9 M321.8 132.4h-1.9 M321.8 127.9h-1.9 M321.8 119.0h-1.9 M321.8 114.5h-1.9 M321.8 110.0h-1.9 M321.8 101.1h-1.9 M321.8 96.6h-1.9 M321.8 92.1h-1.9 M321.8 83.2h-1.9 M321.8 78.7h-1.9 M321.8 74.2h-1.9 M321.8 65.3h-1.9 M321.8 60.8h-1.9 M321.8 56.3h-1.9 M321.8 47.4h-1.9 M321.8 42.9h-1.9 M321.8 38.4h-1.9" stroke="#000" stroke-width="1.4" fill="none"/>
<path d="M516.7 248.8h-4.3 M516.7 243.4h-2.3 M516.7 240.2h-2.3 M516.7 238.0h-2.3 M516.7 236.2h-2.3 M516.7 234.8h-2.3 M516.7 233.6h-2.3 M516.7 232.6h-2.3 M516.7 231.7h-2.3 M516.7 230.8h-4.3 M516.7 225.5h-2.3 M516.7 222.3h-2.3 M516.7 220.1h-2.3 M516.7 218.3h-2.3 M516.7 216.9h-2.3 M516.7 215.7h-2.3 M516.7 214.7h-2.3 M516.7 213.8h-2.3 M516.7 212.9h-4.3 M516.7 207.6h-2.3 M516.7 204.4h-2.3 M516.7 202.2h-2.3 M516.7 200.4h-2.3 M516.7 199.0h-2.3 M516.7 197.8h-2.3 M516.7 196.8h-2.3 M516.7 195.9h-2.3 M516.7 195.0h-4.3 M516.7 189.7h-2.3 M516.7 186.5h-2.3 M516.7 184.3h-2.3 M516.7 182.5h-2.3 M516.7 181.1h-2.3 M516.7 179.9h-2.3 M516.7 178.9h-2.3 M516.7 178.0h-2.3 M516.7 177.1h-4.3 M516.7 171.8h-2.3 M516.7 168.6h-2.3 M516.7 166.4h-2.3 M516.7 164.6h-2.3 M516.7 163.2h-2.3 M516.7 162.0h-2.3 M516.7 161.0h-2.3 M516.7 160.1h-2.3 M516.7 159.2h-4.3 M516.7 153.9h-2.3 M516.7 150.7h-2.3 M516.7 148.5h-2.3 M516.7 146.7h-2.3 M516.7 145.3h-2.3 M516.7 144.1h-2.3 M516.7 143.1h-2.3 M516.7 142.2h-2.3 M516.7 141.3h-4.3 M516.7 136.0h-2.3 M516.7 132.8h-2.3 M516.7 130.6h-2.3 M516.7 128.8h-2.3 M516.7 127.4h-2.3 M516.7 126.2h-2.3 M516.7 125.2h-2.3 M516.7 124.3h-2.3 M516.7 123.4h-4.3 M516.7 118.1h-2.3 M516.7 114.9h-2.3 M516.7 112.7h-2.3 M516.7 110.9h-2.3 M516.7 109.5h-2.3 M516.7 108.3h-2.3 M516.7 107.3h-2.3 M516.7 106.4h-2.3 M516.7 105.5h-4.3 M516.7 100.2h-2.3 M516.7 97.0h-2.3 M516.7 94.8h-2.3 M516.7 93.0h-2.3 M516.7 91.6h-2.3 M516.7 90.4h-2.3 M516.7 89.4h-2.3 M516.7 88.5h-2.3 M516.7 87.7h-4.3 M516.7 82.3h-2.3 M516.7 79.1h-2.3 M516.7 76.9h-2.3 M516.7 75.1h-2.3 M516.7 73.7h-2.3 M516.7 72.5h-2.3 M516.7 71.5h-2.3 M516.7 70.6h-2.3 M516.7 69.8h-4.3 M516.7 64.4h-2.3 M516.7 61.2h-2.3 M516.7 59.0h-2.3 M516.7 57.2h-2.3 M516.7 55.8h-2.3 M516.7 54.6h-2.3 M516.7 53.6h-2.3 M516.7 52.7h-2.3 M516.7 51.9h-4.3 M516.7 46.5h-2.3 M516.7 43.3h-2.3 M516.7 41.1h-2.3 M516.7 39.3h-2.3 M516.7 37.9h-2.3 M516.7 36.7h-2.3 M516.7 35.7h-2.3 M516.7 34.8h-2.3" stroke="#000" stroke-width="1.3" fill="none"/>
<text x="322.2" y="266.6" font-size="14" fill="#111" stroke="#111" stroke-width="0.22" text-anchor="middle">−20</text>
<text x="366.5" y="266.6" font-size="14" fill="#111" stroke="#111" stroke-width="0.22" text-anchor="middle">−15</text>
<text x="410.8" y="266.6" font-size="14" fill="#111" stroke="#111" stroke-width="0.22" text-anchor="middle">−10</text>
<text x="455.1" y="266.6" font-size="14" fill="#111" stroke="#111" stroke-width="0.22" text-anchor="middle">−5</text>
<text x="499.1" y="266.6" font-size="14" fill="#111" stroke="#111" stroke-width="0.22" text-anchor="middle">0</text>
<text x="314.6" y="253.8" font-size="13.8" fill="#111" stroke="#111" stroke-width="0.22" text-anchor="end" xml:space="preserve"><tspan>10</tspan><tspan font-size="9.4" dy="-5.8">−10</tspan></text>
<text x="314.6" y="217.9" font-size="13.8" fill="#111" stroke="#111" stroke-width="0.22" text-anchor="end" xml:space="preserve"><tspan>10</tspan><tspan font-size="9.4" dy="-5.8">−8</tspan></text>
<text x="314.6" y="182.1" font-size="13.8" fill="#111" stroke="#111" stroke-width="0.22" text-anchor="end" xml:space="preserve"><tspan>10</tspan><tspan font-size="9.4" dy="-5.8">−6</tspan></text>
<text x="314.6" y="146.3" font-size="13.8" fill="#111" stroke="#111" stroke-width="0.22" text-anchor="end" xml:space="preserve"><tspan>10</tspan><tspan font-size="9.4" dy="-5.8">−4</tspan></text>
<text x="314.6" y="110.5" font-size="13.8" fill="#111" stroke="#111" stroke-width="0.22" text-anchor="end" xml:space="preserve"><tspan>10</tspan><tspan font-size="9.4" dy="-5.8">−2</tspan></text>
<text x="314.6" y="74.8" font-size="13.8" fill="#111" stroke="#111" stroke-width="0.22" text-anchor="end" xml:space="preserve"><tspan>10</tspan><tspan font-size="9.4" dy="-5.8">0</tspan></text>
<text x="314.6" y="39.0" font-size="13.8" fill="#111" stroke="#111" stroke-width="0.22" text-anchor="end" xml:space="preserve"><tspan>10</tspan><tspan font-size="9.4" dy="-5.8">2</tspan></text>
<text x="393.5" y="290.5" font-size="17.5" fill="#111" stroke="#111" stroke-width="0.22" text-anchor="start" textLength="37.1" lengthAdjust="spacingAndGlyphs">V(V)</text>
<g transform="translate(275.8 183.2) rotate(-90)">
<text x="0" y="0" font-size="17.8" fill="#111" stroke="#111" stroke-width="0.22" text-anchor="start" xml:space="preserve" textLength="74.2" lengthAdjust="spacingAndGlyphs"><tspan>I</tspan><tspan font-size="11.5" dy="3.5">D</tspan><tspan dy="-3.5">(A/cm</tspan><tspan font-size="11.5" dy="-6">2</tspan><tspan dy="6">)</tspan></text>
</g>
</svg></body></html>
